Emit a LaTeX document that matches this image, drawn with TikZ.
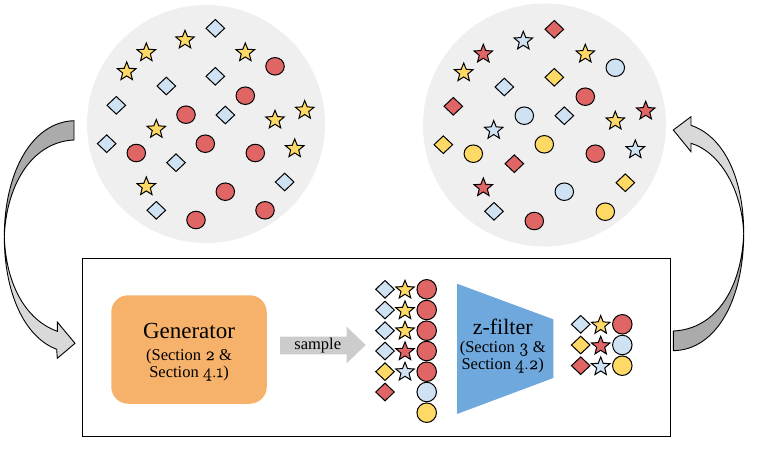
\documentclass[tikz,border=0pt]{standalone}
\usepackage{fontspec}
\setmainfont{Liberation Serif}
\newfontfamily\olddig[Numbers=OldStyle, Scale=1.12, FakeBold=0.4]{Latin Modern Roman}
\usetikzlibrary{shapes.geometric, arrows, positioning, calc}
\definecolor{redc}{HTML}{E06666}
\definecolor{yelc}{HTML}{FFD966}
\definecolor{bluc}{HTML}{CFE2F3}
\definecolor{bagc}{HTML}{EFEFEF}
\definecolor{orgc}{HTML}{F6B26B}
\definecolor{filc}{HTML}{6FA8DC}
\definecolor{darkc}{HTML}{ABABAB}
\definecolor{lightc}{HTML}{D9D9D9}
\definecolor{smpc}{HTML}{CCCCCC}

\begin{document}
\begin{tikzpicture}[
    x=1pt, y=-1pt,
    dia/.style={diamond, draw=black, line width=1pt, inner sep=0pt, minimum width=19pt, minimum height=18pt},
    strr/.style={star, star points=5, star point ratio=2.3, draw=black, line width=1pt, inner sep=0pt, minimum size=19.5pt},
    circ/.style={ellipse, draw=black, line width=1pt, inner sep=0pt, minimum width=18.5pt, minimum height=17.5pt},
    rnd/.style={circle, draw=black, line width=1pt, inner sep=0pt, minimum size=19.5pt},
    big/.style={font=\fontsize{22}{24}\selectfont, inner sep=0pt},
    sec/.style={font=\fontsize{16.5}{18}\selectfont, inner sep=0pt},
    curve/.style={draw=black, line width=0.9pt, line join=miter}
]
\useasboundingbox (0,0) rectangle (762,450);

% Populations
\node[circle, fill=bagc, minimum size=238pt, inner sep=0pt] (bagl) at (206,124) {};
\node[circle, fill=bagc, minimum size=243pt, inner sep=0pt] (bagr) at (544.5,125) {};

% Left population
\foreach \px/\py [count=\i] in {185/40, 146.3/52.7, 126.7/71.7, 245.3/52.7, 156.3/129.3, 275/120, 304.7/110.3, 294.7/148.7, 146.3/186.7}
    \node[strr, fill=yelc] (ls\i) at (\px,\py) {};
\foreach \px/\py [count=\i] in {215.3/28.3, 215.3/76.3, 166.3/86, 116.3/105.3, 225.3/115, 106.7/143.7, 176/162.7, 284.7/182, 156.3/210.3}
    \node[dia, fill=bluc] (ld\i) at (\px,\py) {};
\foreach \px/\py [count=\i] in {275/66.3, 245.3/95.7, 186/114.7, 205.3/143.7, 136.3/153, 255.3/153, 225.3/191.7, 265/210.3, 196/220}
    \node[circ, fill=redc] (lc\i) at (\px,\py) {};

% Right population
\foreach \px/\py/\col [count=\i] in {523.3/41/bluc, 483.3/54/redc, 463.7/72.7/yelc, 585.3/54/yelc, 493.7/130.3/bluc, 615.3/121/yelc, 645.7/111/redc, 635.3/149.7/bluc, 483.3/187.7/redc}
    \node[strr, fill=\col] (rs\i) at (\px,\py) {};
\foreach \px/\py/\col [count=\i] in {554.3/29.3/redc, 554.3/77.3/yelc, 504.3/87/bluc, 453.3/106.3/redc, 564.3/115.7/bluc, 443.3/144.7/yelc, 514.3/163.7/redc, 625.3/182.7/yelc, 494/211.3/bluc}
    \node[dia, fill=\col] (rd\i) at (\px,\py) {};
\foreach \px/\py/\col [count=\i] in {615.3/67.7/bluc, 585.3/96.7/redc, 524.3/115.7/bluc, 544.3/144.3/yelc, 473.3/153.7/yelc, 595.3/153.7/redc, 564.3/191.7/bluc, 605.3/211.7/yelc, 534.3/221/redc}
    \node[circ, fill=\col] (rc\i) at (\px,\py) {};

% Frame
\node[draw=black, line width=1pt, minimum width=588pt, minimum height=178pt, inner sep=0pt] (frame) at (376,347) {};

% Generator
\node[fill=orgc, rounded corners=17pt, minimum width=155.5pt, minimum height=108.5pt, inner sep=0pt] (gen) at (189,349.5) {};
\node[big, font=\fontsize{23}{24}\selectfont] (gentxt) at (189,330.5) {Generator};
\node[sec] (gensec) at (189,365) {\begin{tabular}{@{}c@{}}(Section {\olddig 2} \&\\[-1pt]Section {\olddig 4.1})\end{tabular}};

% Sample arrow
\fill[smpc] (280,336.7) -- (346.7,336.7) -- (346.7,326.7) -- (365.7,345) -- (346.7,363.3) -- (346.7,354.3) -- (280,354.3) -- cycle;
\node[sec] (smp) at (317.7,345.5) {sample};

% Samples
\foreach \py/\col [count=\i] in {289.3/bluc, 310/bluc, 330.7/bluc, 351/bluc, 371.7/yelc, 392/redc}
    \node[dia, fill=\col] (sd\i) at (385,\py) {};
\foreach \py/\col [count=\i] in {290/yelc, 310.7/yelc, 331/yelc, 351.7/redc, 372/bluc}
    \node[strr, fill=\col] (ss\i) at (405,\py) {};
\foreach \py/\col [count=\i] in {289.3/redc, 310/redc, 330.7/redc, 351/redc, 371.7/redc, 392/bluc, 412.7/yelc}
    \node[rnd, fill=\col] (sc\i) at (426.7,\py) {};

% z-filter
\fill[filc] (457,283.7) -- (553.3,319.3) -- (553.3,378) -- (457,414) -- cycle;
\node[big] (ztxt) at (502.7,327) {z-filter};
\node[sec] (zsec) at (502.7,357) {\begin{tabular}{@{}c@{}}(Section {\olddig 3} \&\\[-1pt]Section {\olddig 4.2})\end{tabular}};

% Filtered
\foreach \py/\col [count=\i] in {324.3/bluc, 345/yelc, 365.7/redc}
    \node[dia, fill=\col] (fd\i) at (580.7,\py) {};
\foreach \py/\col [count=\i] in {325.3/yelc, 346/redc, 366.7/bluc}
    \node[strr, fill=\col] (fs\i) at (600.7,\py) {};
\foreach \py/\col [count=\i] in {324.3/redc, 345/bluc, 365.7/yelc}
    \node[rnd, fill=\col] (fc\i) at (622.3,\py) {};

% Curved arrows
\draw[curve, fill=darkc] (74,120.7) .. controls (32,122) and (4.3,172) .. (4.3,236.7)
    .. controls (6,188) and (30,142) .. (74,140) -- cycle;
\draw[curve, fill=lightc] (4.3,236.7) .. controls (4.3,292) and (24,337) .. (56.7,349.3)
    -- (57.3,358.3) -- (75,343.3) -- (57.3,322) -- (57.3,331.3)
    .. controls (26,320) and (6,285) .. (4.3,236.7) -- cycle;
\draw[curve, fill=darkc] (673.3,350.7) .. controls (716,350) and (743.7,300) .. (743.7,233.3)
    .. controls (742,285) and (718,329) .. (673.3,331) -- cycle;
\draw[curve, fill=lightc] (743.7,233.3) .. controls (743.7,180) and (725,137) .. (691,125.3)
    -- (691,116.7) -- (673.3,130) -- (691,151.7) -- (691,143.3)
    .. controls (720,152) and (742,190) .. (743.7,233.3) -- cycle;

\end{tikzpicture}
\end{document}
